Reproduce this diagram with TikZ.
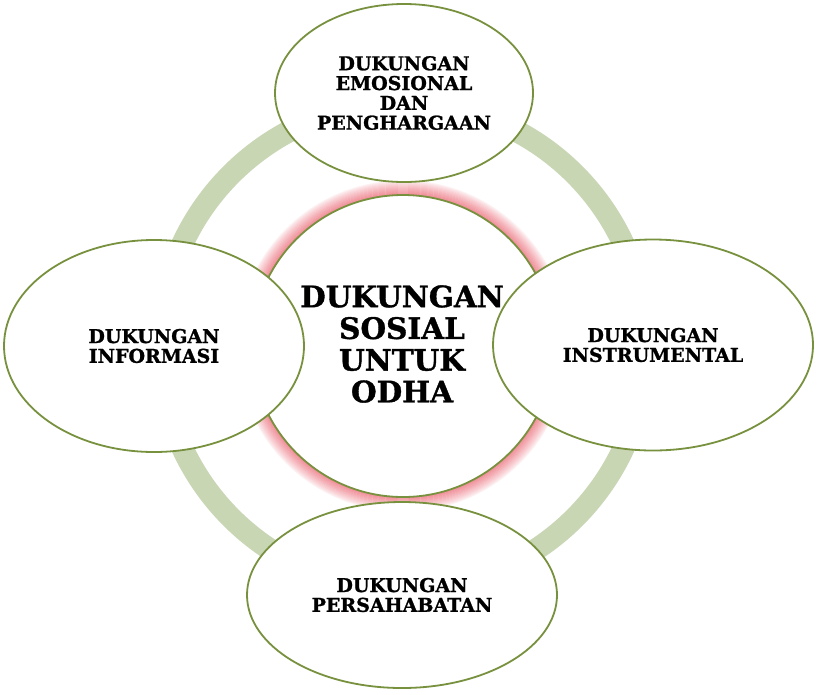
\documentclass[tikz,border=0pt]{standalone}
\usepackage{fontspec}
\setmainfont{DejaVu Serif}[BoldFeatures={FakeBold=1.2}]
\usetikzlibrary{shapes.geometric}
\definecolor{ringgreen}{RGB}{200,214,180}
\definecolor{olive}{RGB}{120,145,62}
\definecolor{glowpink}{RGB}{240,140,150}
\tikzset{
  bubble/.style={ellipse, draw=olive, line width=1.8pt, fill=white, inner sep=0pt, align=center},
  small/.style={font=\fontsize{19}{19.8}\selectfont\bfseries},
  big/.style={font=\fontsize{29.5}{31.7}\selectfont\bfseries, align=center},
}
\begin{document}
\begin{tikzpicture}[x=1pt,y=-1pt]
\useasboundingbox[fill=white] (0,0) rectangle (821,694);
\coordinate (c) at (403,346);
% ring
\draw[ringgreen, line width=22pt] (c) circle (243pt);
% glow
\foreach \i in {15,14,...,0}{
  \pgfmathsetmacro{\p}{100*(1-\i/15)^0.8}
  \pgfmathsetmacro{\rr}{151+\i}
  \draw[glowpink!\p!white, line width=1.3pt] (c) circle (\rr pt);
}
% central circle
\node[circle, draw=olive, line width=1.8pt, fill=white, minimum size=302pt, inner sep=0pt] (center) at (c) {};
% satellites
\node[bubble, small, minimum width=258pt, minimum height=178pt] (top) at (404,93) {DUKUNGAN\\EMOSIONAL\\DAN\\PENGHARGAAN};
\node[bubble, small, minimum width=300pt, minimum height=212pt] (left) at (154,346) {DUKUNGAN\\INFORMASI};
\node[bubble, small, minimum width=320pt, minimum height=211pt] (right) at (653,345) {DUKUNGAN\\INSTRUMENTAL};
\node[bubble, small, minimum width=310pt, minimum height=186pt] (bottom) at (402,595) {DUKUNGAN\\PERSAHABATAN};
% central text on top
\node[big, inner sep=0pt] (centertext) at (402,344) {DUKUNGAN\\SOSIAL\\UNTUK\\ODHA};
\end{tikzpicture}
\end{document}
